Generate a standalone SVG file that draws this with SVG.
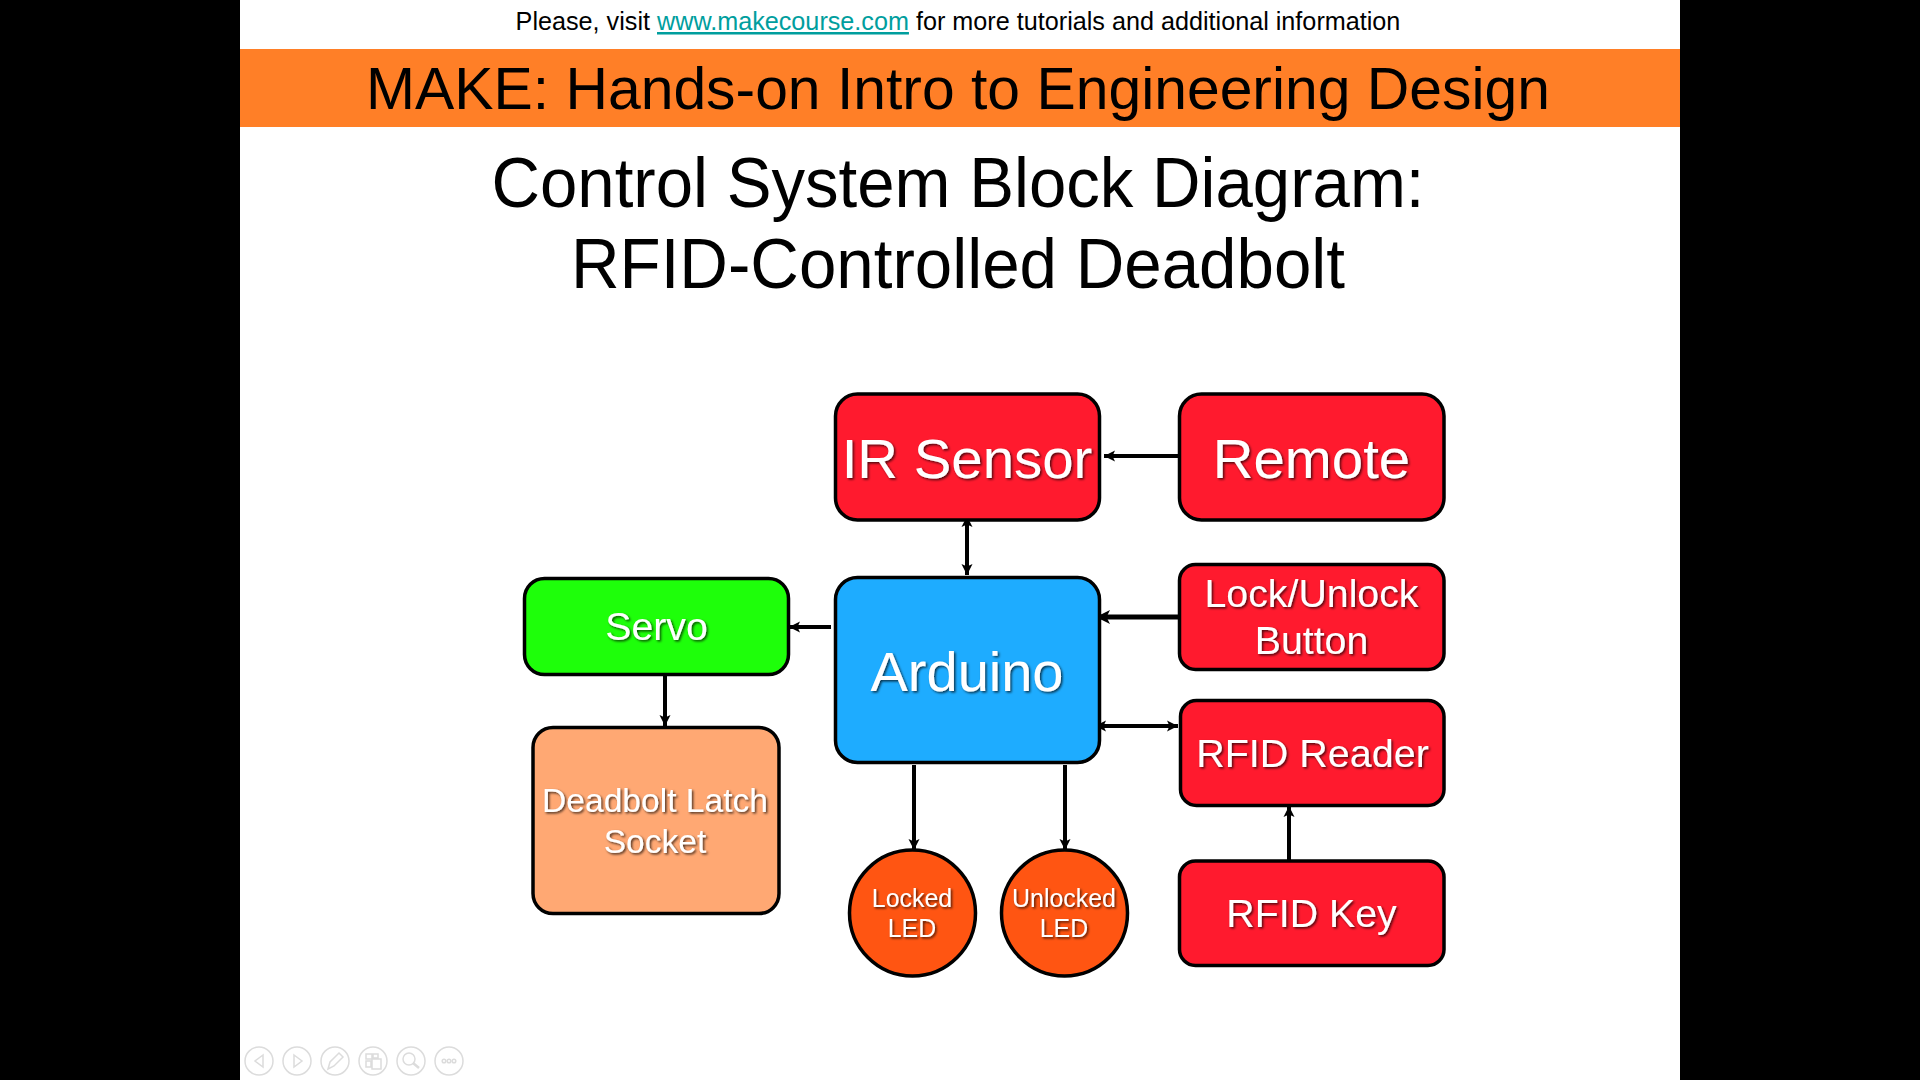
<svg xmlns="http://www.w3.org/2000/svg" width="1920" height="1080" viewBox="0 0 1920 1080">
<style>
text{font-family:"Liberation Sans",Arial,sans-serif;text-anchor:middle}
.hd{fill:#000}
.n{fill:#fff;filter:url(#sh)}
.box{stroke:#000;stroke-width:3.5}
.red{fill:#FF1A2E}
.c{stroke:#000;stroke-width:4;fill:none}
.ic{fill:none;stroke:#dcdcdc;stroke-width:1.5}
</style>
<defs>
<filter id="sh" x="-10%" y="-20%" width="120%" height="140%"><feDropShadow dx="1.5" dy="1.5" stdDeviation="1" flood-color="#000" flood-opacity="0.7"/></filter>
<marker id="a" markerUnits="userSpaceOnUse" markerWidth="14" markerHeight="14" refX="12" refY="7" orient="auto-start-reverse"><path d="M12 7L1 1.5 3.5 7 1 12.5Z" fill="#000"/></marker>
<marker id="b" markerUnits="userSpaceOnUse" markerWidth="18" markerHeight="18" refX="15" refY="9" orient="auto-start-reverse"><path d="M15 9L1 2 4.5 9 1 16Z" fill="#000"/></marker>
</defs>
<rect width="1920" height="1080" fill="#000"/>
<rect x="240" width="1440" height="1080" fill="#fff"/>
<rect x="240" y="49" width="1440" height="78" fill="#FF7F27"/>
<text class="hd" x="958" y="30" font-size="25.2">Please, visit <tspan fill="#009E9E" text-decoration="underline">www.makecourse.com</tspan> for more tutorials and additional information</text>
<text class="hd" x="958" y="108.500" font-size="60" textLength="1184" lengthAdjust="spacingAndGlyphs">MAKE: Hands-on Intro to Engineering Design</text>
<text class="hd" x="958" y="207" font-size="70" textLength="933" lengthAdjust="spacingAndGlyphs">Control System Block Diagram:</text>
<text class="hd" x="958" y="288" font-size="70" textLength="774" lengthAdjust="spacingAndGlyphs">RFID-Controlled Deadbolt</text>
<g id="connectors">
<path class="c" d="M1179 456H1104" marker-end="url(#a)"/>
<path class="c" d="M967 575V516" marker-start="url(#a)" marker-end="url(#a)"/>
<path class="c" style="stroke-width:5" d="M1179 617H1096" marker-end="url(#b)"/>
<path class="c" d="M1095 726H1178" marker-start="url(#a)" marker-end="url(#a)"/>
<path class="c" d="M831 627H789" marker-end="url(#a)"/>
<path class="c" d="M665 675V726" marker-end="url(#a)"/>
<path class="c" d="M914 765V850" marker-end="url(#a)"/>
<path class="c" d="M1065 765V850" marker-end="url(#a)"/>
<path class="c" d="M1289 860V806" marker-end="url(#a)"/>
</g>
<g id="ir-sensor"><rect class="box red" x="835.5" y="394" width="264" height="126" rx="22"/><text class="n" x="967" y="478" font-size="56.4">IR Sensor</text></g>
<g id="remote"><rect class="box red" x="1179.5" y="394" width="264.500" height="126" rx="22"/><text class="n" x="1311.500" y="478" font-size="56.4">Remote</text></g>
<g id="arduino"><rect class="box" fill="#1EACFF" x="835.5" y="577.500" width="264" height="185" rx="22"/><text class="n" x="967" y="691" font-size="56">Arduino</text></g>
<g id="lock-button"><rect class="box red" x="1179.5" y="564.500" width="264.500" height="105" rx="16"/><text class="n" x="1311.500" y="607" font-size="39.3"><tspan x="1311.500">Lock/Unlock</tspan><tspan x="1311.500" y="654">Button</tspan></text></g>
<g id="rfid-reader"><rect class="box red" x="1180.500" y="700.500" width="263.500" height="105" rx="16"/><text class="n" x="1312.500" y="767" font-size="39.5">RFID Reader</text></g>
<g id="rfid-key"><rect class="box red" x="1179.5" y="861" width="264.500" height="104.500" rx="16"/><text class="n" x="1311.500" y="927" font-size="39.3">RFID Key</text></g>
<g id="servo"><rect class="box" fill="#1EFF0A" x="524.500" y="578.500" width="264" height="96" rx="20"/><text class="n" x="656.500" y="640" font-size="39.3">Servo</text></g>
<g id="deadbolt"><rect class="box" fill="#FFA873" x="533" y="727.500" width="246" height="186" rx="20"/><text class="n" x="655" y="812" font-size="33.6"><tspan x="655">Deadbolt Latch</tspan><tspan x="655" y="852.500">Socket</tspan></text></g>
<g id="locked-led"><circle class="box" fill="#FF5512" cx="912.500" cy="913" r="63"/><text class="n" x="912" y="907" font-size="24.9"><tspan x="912">Locked</tspan><tspan x="912" y="937">LED</tspan></text></g>
<g id="unlocked-led"><circle class="box" fill="#FF5512" cx="1064.500" cy="913" r="63"/><text class="n" x="1064" y="907" font-size="24.9"><tspan x="1064">Unlocked</tspan><tspan x="1064" y="937">LED</tspan></text></g>
<g id="slideshow-controls" class="ic">
<circle cx="259" cy="1061" r="14"/><path d="M263 1055L255 1061 263 1067Z"/>
<circle cx="297" cy="1061" r="14"/><path d="M294 1055L302 1061 294 1067Z"/>
<circle cx="335" cy="1061" r="14"/><path d="M328 1069L330 1062 339 1053 343 1057 334 1066Z"/>
<circle cx="373" cy="1061" r="14"/><path d="M366 1054h6v5h-6zM366 1061h5v6h-5zM373 1054h5v4h-5zM372 1059h9v10h-9z"/>
<circle cx="411" cy="1061" r="14"/><circle cx="409" cy="1059" r="6"/><path d="M413 1063L419 1068" stroke-width="2.5"/>
<circle cx="449" cy="1061" r="14"/><circle cx="444" cy="1061" r="1.800"/><circle cx="449" cy="1061" r="1.800"/><circle cx="454" cy="1061" r="1.800"/>
</g>
</svg>
